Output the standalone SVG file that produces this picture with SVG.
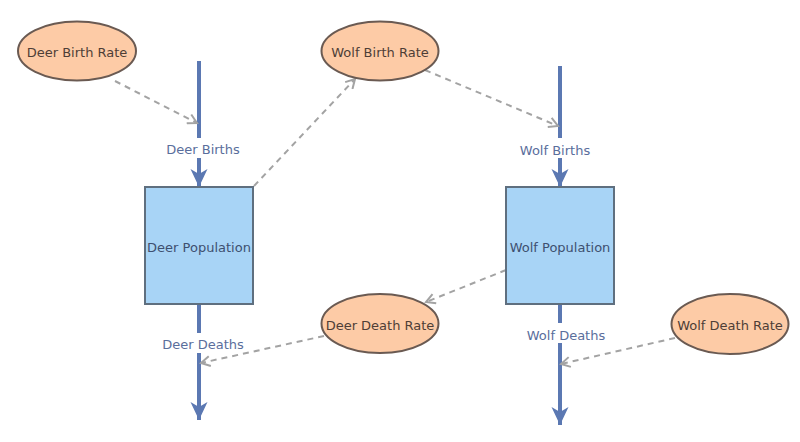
<svg xmlns="http://www.w3.org/2000/svg" width="800" height="442" viewBox="0 0 800 442">
<style>
.rate{fill:#FDCBA6;stroke:#6A5A52;stroke-width:2}
.stock{fill:#A8D4F6;stroke:#5F6F7F;stroke-width:2}
.t{font-family:"DejaVu Sans","Liberation Sans",sans-serif;font-size:13px;text-anchor:middle;dominant-baseline:central}
.rt{fill:#4E3E36}
.st{fill:#3E5070}
.ft{fill:#5A6E9C}
.flow{stroke:#5B78B2;stroke-width:4;fill:none}
.link{stroke:#A3A3A3;stroke-width:2;stroke-dasharray:6,5;fill:none}
</style>
<defs>
<marker id="fa" markerUnits="userSpaceOnUse" markerWidth="20" markerHeight="20" viewBox="0 0 20 20" refX="18" refY="10" orient="auto">
<path d="M0,1.5 L18,10 L0,18.5 L5,10 Z" fill="#5B78B2"/>
</marker>
<marker id="la" markerUnits="userSpaceOnUse" markerWidth="12" markerHeight="12" viewBox="0 0 12 12" refX="10" refY="6" orient="auto">
<path d="M1,1 L10,6 L1,11" fill="none" stroke="#A3A3A3" stroke-width="2"/>
</marker>
</defs>
<rect width="800" height="442" fill="#FFFFFF"/>
<g id="connectors">
<line class="flow" x1="199" y1="61" x2="199" y2="138"/>
<line class="flow" x1="199" y1="158" x2="199" y2="187" marker-end="url(#fa)"/>
<line class="flow" x1="199" y1="304" x2="199" y2="333"/>
<line class="flow" x1="199" y1="353" x2="199" y2="420" marker-end="url(#fa)"/>
<line class="flow" x1="560" y1="66" x2="560" y2="138"/>
<line class="flow" x1="560" y1="158" x2="560" y2="187" marker-end="url(#fa)"/>
<line class="flow" x1="560" y1="304" x2="560" y2="323"/>
<line class="flow" x1="560" y1="343" x2="560" y2="425" marker-end="url(#fa)"/>
<line class="link" x1="115" y1="81" x2="197" y2="123" marker-end="url(#la)"/>
<line class="link" x1="254" y1="186" x2="355" y2="79" marker-end="url(#la)"/>
<line class="link" x1="425" y1="70" x2="558" y2="126" marker-end="url(#la)"/>
<line class="link" x1="506" y1="270" x2="426" y2="302" marker-end="url(#la)"/>
<line class="link" x1="324" y1="336" x2="201" y2="363" marker-end="url(#la)"/>
<line class="link" x1="675" y1="338" x2="561" y2="364" marker-end="url(#la)"/>
<text class="t ft" x="203" y="149">Deer Births</text>
<text class="t ft" x="203" y="344">Deer Deaths</text>
<text class="t ft" x="555" y="150">Wolf Births</text>
<text class="t ft" x="566" y="335">Wolf Deaths</text>
</g>
<g id="deer-birth-rate">
<ellipse class="rate" cx="77" cy="51" rx="59" ry="29.5"/>
<text class="t rt" x="77" y="52">Deer Birth Rate</text>
</g>
<g id="wolf-birth-rate">
<ellipse class="rate" cx="380" cy="51" rx="58.5" ry="29.5"/>
<text class="t rt" x="380" y="52">Wolf Birth Rate</text>
</g>
<g id="deer-population">
<rect class="stock" x="145" y="187" width="108" height="117"/>
<text class="t st" x="199" y="247">Deer Population</text>
</g>
<g id="wolf-population">
<rect class="stock" x="506" y="187" width="108" height="117"/>
<text class="t st" x="560" y="247">Wolf Population</text>
</g>
<g id="deer-death-rate">
<ellipse class="rate" cx="380" cy="323.5" rx="58.5" ry="29.5"/>
<text class="t rt" x="380" y="325">Deer Death Rate</text>
</g>
<g id="wolf-death-rate">
<ellipse class="rate" cx="730" cy="324" rx="58.5" ry="30"/>
<text class="t rt" x="730" y="325">Wolf Death Rate</text>
</g>
</svg>
